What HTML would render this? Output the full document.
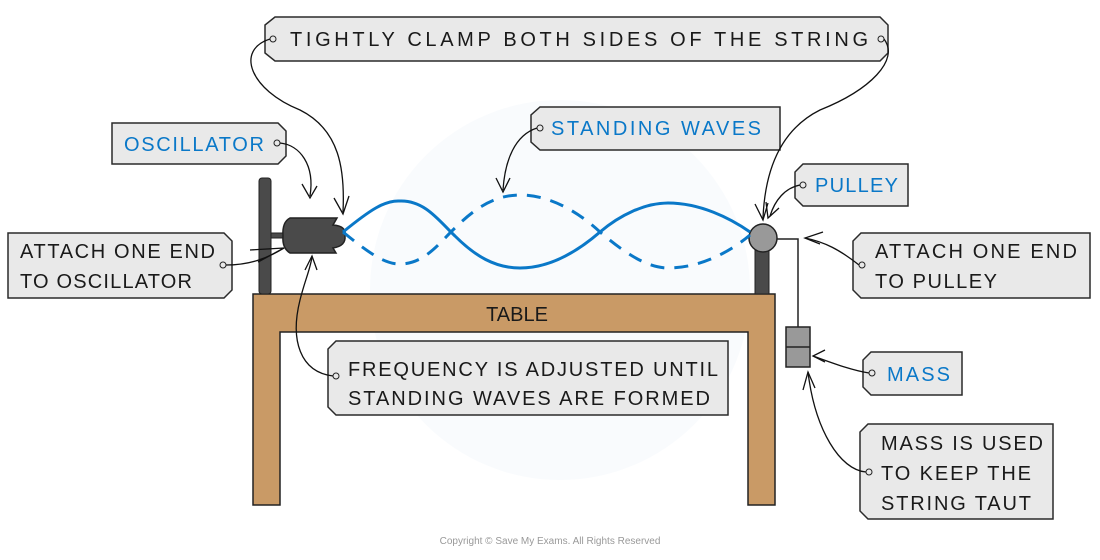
<!DOCTYPE html>
<html><head><meta charset="utf-8"><style>
html,body{margin:0;padding:0;background:#fff;}
svg{display:block;}
text{font-family:"Liberation Sans",sans-serif;font-size:20px;fill:#1a1a1a;}
.b{fill:#0a78c8;}
.tag{fill:#e9e9e9;stroke:#2a2a2a;stroke-width:1.5;}
.ar{fill:none;stroke:#111;stroke-width:1.3;}
</style></head><body>
<svg width="1100" height="560" viewBox="0 0 1100 560" xmlns="http://www.w3.org/2000/svg">
<circle cx="560" cy="290" r="190" fill="#f9fbfd"/>
<path d="M253 294 H775 V505 H748 V332 H280 V505 H253 Z" fill="#c99a66" stroke="#222" stroke-width="1.5"/>
<text x="517" y="321" text-anchor="middle">TABLE</text>
<rect x="259" y="178" width="12" height="116" rx="3" fill="#4a4a4a" stroke="#222"/>
<rect x="271" y="233" width="14" height="5" fill="#4a4a4a" stroke="#222"/>
<path d="M290 218 H337 L333 225 Q347 226 345 236 Q346 246 333 248 L336 253 H290 Q282 248 283 236 Q282 222 290 218 Z" fill="#4a4a4a" stroke="#222" stroke-width="1.5"/>
<rect x="755" y="245" width="14" height="49" fill="#4a4a4a" stroke="#222"/>
<circle cx="763" cy="238" r="14" fill="#999" stroke="#222" stroke-width="1.5"/>
<path d="M777 239 H798 V327" fill="none" stroke="#222" stroke-width="1.5"/>
<rect x="786" y="327" width="24" height="40" fill="#999" stroke="#222" stroke-width="1.5"/>
<line x1="786" y1="347" x2="810" y2="347" stroke="#222" stroke-width="1.5"/>
<path d="M343 232 C370 210 385 200 400 201 C425 200 440 222 455 236 C475 256 495 268 520 268 C555 268 585 245 600 232 C620 215 645 203 668 203 C700 203 730 218 750 232" fill="none" stroke="#0a78c8" stroke-width="3"/>
<path d="M343 232 C370 254 385 264 400 264 C425 264 440 242 455 228 C475 208 495 195 520 195 C555 195 585 218 600 232 C620 249 645 268 668 268 C700 268 730 252 750 235" fill="none" stroke="#0a78c8" stroke-width="3" stroke-dasharray="14 10"/>
<polygon class="tag" points="275,17 880,17 888,25 888,53 880,61 275,61 265,53 265,25"/>
<circle cx="273" cy="39" r="3" fill="none" stroke="#222"/><circle cx="881" cy="39" r="3" fill="none" stroke="#222"/>
<text x="290" y="46" textLength="578" lengthAdjust="spacing">TIGHTLY  CLAMP  BOTH  SIDES  OF  THE  STRING</text>
<polygon class="tag" points="112,123 278,123 286,131 286,156 278,164 112,164"/>
<circle cx="277" cy="143" r="3" fill="none" stroke="#222"/>
<text class="b" x="124" y="151" textLength="140" lengthAdjust="spacing">OSCILLATOR</text>
<polygon class="tag" points="540,107 780,107 780,150 540,150 531,142 531,115"/>
<circle cx="540" cy="128" r="3" fill="none" stroke="#222"/>
<text class="b" x="551" y="135" textLength="210" lengthAdjust="spacing">STANDING  WAVES</text>
<polygon class="tag" points="803,164 908,164 908,206 803,206 795,198 795,172"/>
<circle cx="803" cy="185" r="3" fill="none" stroke="#222"/>
<text class="b" x="815" y="192" textLength="83" lengthAdjust="spacing">PULLEY</text>
<polygon class="tag" points="8,233 224,233 232,241 232,290 224,298 8,298"/>
<circle cx="223" cy="265" r="3" fill="none" stroke="#222"/>
<text x="20" y="258" textLength="195" lengthAdjust="spacing">ATTACH  ONE  END</text>
<text x="20" y="288" textLength="172" lengthAdjust="spacing">TO  OSCILLATOR</text>
<polygon class="tag" points="861,233 1090,233 1090,298 861,298 853,290 853,241"/>
<circle cx="862" cy="265" r="3" fill="none" stroke="#222"/>
<text x="875" y="258" textLength="202" lengthAdjust="spacing">ATTACH  ONE  END</text>
<text x="875" y="288" textLength="122" lengthAdjust="spacing">TO  PULLEY</text>
<polygon class="tag" points="336,341 728,341 728,415 336,415 328,407 328,349"/>
<circle cx="336" cy="376" r="3" fill="none" stroke="#222"/>
<text x="348" y="376" textLength="370" lengthAdjust="spacing">FREQUENCY  IS  ADJUSTED  UNTIL</text>
<text x="348" y="405" textLength="362" lengthAdjust="spacing">STANDING  WAVES  ARE  FORMED</text>
<polygon class="tag" points="871,352 962,352 962,395 871,395 863,387 863,360"/>
<circle cx="872" cy="373" r="3" fill="none" stroke="#222"/>
<text class="b" x="887" y="381" textLength="63" lengthAdjust="spacing">MASS</text>
<polygon class="tag" points="868,424 1053,424 1053,519 868,519 860,511 860,432"/>
<circle cx="869" cy="472" r="3" fill="none" stroke="#222"/>
<text x="881" y="450" textLength="162" lengthAdjust="spacing">MASS  IS  USED</text>
<text x="881" y="480" textLength="150" lengthAdjust="spacing">TO  KEEP  THE</text>
<text x="881" y="510" textLength="150" lengthAdjust="spacing">STRING  TAUT</text>
<g class="ar">
<path d="M270 39 C235 50 250 90 300 110 C340 130 345 170 343 212"/><path d="M334 198 L343 214 L349 196"/>
<path d="M884 39 C900 60 870 90 820 110 C780 130 765 170 763 218"/><path d="M755 204 L763 220 L768 203"/>
<path d="M280 143 C300 145 315 165 310 196"/><path d="M302 184 L310 198 L317 186"/>
<path d="M537 128 C515 135 505 160 503 190"/><path d="M496 178 L503 192 L510 178"/>
<path d="M800 185 C785 188 775 200 770 216"/><path d="M766 202 L768 218 L779 208"/>
<path d="M226 265 C250 265 268 258 284 248"/><path d="M250 250 L284 248 L258 262"/>
<path d="M859 265 C840 250 825 242 805 238"/><path d="M823 232 L805 238 L820 244"/>
<path d="M333 376 C300 372 290 340 300 300 C305 280 310 270 312 257"/><path d="M305 270 L312 256 L317 270"/>
<path d="M869 373 C850 370 830 362 813 356"/><path d="M825 350 L813 356 L825 362"/>
<path d="M866 472 C840 470 815 430 808 372"/><path d="M803 390 L808 372 L815 388"/>
</g>
<text x="550" y="544" text-anchor="middle" style="font-size:10px;fill:#999">Copyright © Save My Exams. All Rights Reserved</text>
</svg>
</body></html>
